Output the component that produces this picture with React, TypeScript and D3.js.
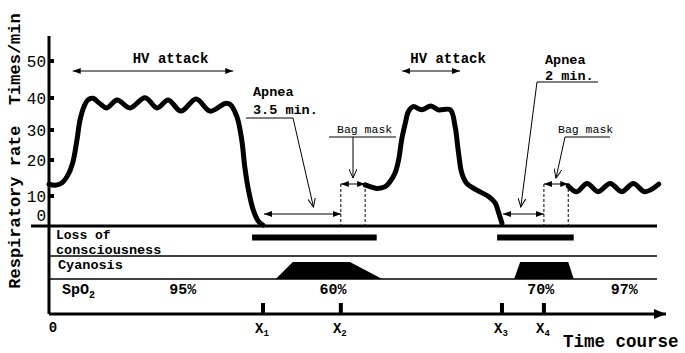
import React from 'react'
import * as d3 from 'd3'

// respiratory rate trace, [time, breaths/min]; time is 0-100 along the course
const hvAttack1: [number, number][] = [
  [0, 13.3], [1, 13.0], [2.1, 13.6], [3.1, 15.8], [3.9, 19.2], [4.6, 26.7],
  [5.1, 33.1], [5.8, 37.5], [6.4, 39.4], [7.2, 39.9], [8.4, 38.2], [9.5, 36.9],
  [11.2, 39.4], [13.3, 36.9], [15.8, 40.1], [17.8, 36.9], [19.6, 39.4],
  [21.7, 35.9], [24.2, 39.7], [26.5, 35.9], [29.0, 38.3], [29.8, 38.0],
  [30.9, 34.2], [31.7, 26.7], [32.2, 18.1], [32.8, 11.7], [33.6, 5.3],
  [34.5, 1.4], [35.2, 0.3],
]
const hvAttack2: [number, number][] = [
  [52.0, 13.1], [52.8, 12.6], [53.9, 12.1], [55.3, 12.6], [56.1, 14.0],
  [56.9, 16.3], [57.5, 20], [58.0, 26.7], [58.6, 32.1], [59.1, 35.7],
  [59.9, 37.3], [61.3, 36.3], [62.8, 37.5], [64.0, 36.3], [66.0, 36.3],
  [66.8, 31.0], [67.3, 23.3], [67.9, 16.3], [68.7, 13.5], [70.3, 11.7],
  [72.3, 9.8], [73.4, 7.6], [73.9, 4.8], [74.5, 0.9],
]
const recovery: [number, number][] = [
  [85.4, 12.8], [86.8, 11.2], [88.5, 13.5], [90.3, 11.2], [92.3, 13.5],
  [94.2, 11.2], [96.1, 13.5], [98.0, 11.2], [100.3, 13.3],
]

const yTicks = [10, 20, 30, 40, 50]
const markers = [
  { sub: '1', t: 35.2 },
  { sub: '2', t: 48.0 },
  { sub: '3', t: 74.5 },
  { sub: '4', t: 81.4 },
]
const hvSpans: [number, number][] = [[3.9, 30.3], [58.1, 67.6]]
const apneaSpans: [number, number][] = [[35.2, 48.0], [74.5, 81.4]]
const bagSpans: [number, number][] = [[48.0, 52.0], [81.4, 85.4]]
const consciousSpans: [number, number][] = [[33.4, 53.9], [73.7, 86.3]]
const cyanosis: [number, number, number, number][] = [
  [37.3, 40.1, 49.5, 54.8],
  [76.5, 77.5, 85.4, 86.3],
]
const spo2 = [
  { label: '95%', t: 22.0 },
  { label: '60%', t: 46.7 },
  { label: '70%', t: 80.9 },
  { label: '97%', t: 94.6 },
]

const font = "'Liberation Mono', 'Courier New', monospace"

const x = d3.scaleLinear().domain([0, 100]).range([49, 657])
const y = d3
  .scaleLinear()
  .domain([0, 10, 20, 30, 40, 50])
  .range([226, 196, 160, 130, 98, 61])

const line = d3
  .line<[number, number]>()
  .x((d) => x(d[0]))
  .y((d) => y(d[1]))
  .curve(d3.curveCatmullRom.alpha(0.5))

const ROW1 = 256
const ROW2 = 279
const AXIS = 314

const App = () => {
  const base = y(0)
  return (
    <svg
      width={685}
      height={353}
      style={{ position: 'absolute', left: 0, top: 0, background: '#fff' }}
      fontFamily={font}
    >
      <defs>
        <marker id="tri" viewBox="0 0 8 6" refX="8" refY="3" markerWidth="8" markerHeight="6" orient="auto-start-reverse" markerUnits="userSpaceOnUse">
          <path d="M0,0 L8,3 L0,6 Z" fill="#000" />
        </marker>
        <marker id="vee" viewBox="0 0 10 8" refX="9" refY="4" markerWidth="10" markerHeight="8" orient="auto" markerUnits="userSpaceOnUse">
          <path d="M0,0 L9,4 L0,8" fill="none" stroke="#000" strokeWidth={1} />
        </marker>
        <marker id="big" viewBox="0 0 12 10" refX="12" refY="5" markerWidth="12" markerHeight="10" orient="auto" markerUnits="userSpaceOnUse">
          <path d="M0,0 L12,5 L0,10 Z" fill="#000" />
        </marker>
      </defs>

      {/* y axis title */}
      <text
        transform={`translate(20, 151) rotate(-90)`}
        textAnchor="middle"
        fontSize={17}
        fontWeight="bold"
        xmlSpace="preserve"
      >
        {'Respiratory rate  Times/min'}
      </text>

      {/* axes */}
      <line x1={49} x2={49} y1={36} y2={AXIS} stroke="#000" strokeWidth={3} />
      <line x1={31} x2={x(100)} y1={base} y2={base} stroke="#000" strokeWidth={3} />
      <line x1={49} x2={x(100)} y1={ROW1} y2={ROW1} stroke="#000" strokeWidth={1.3} />
      <line x1={49} x2={x(100)} y1={ROW2} y2={ROW2} stroke="#000" strokeWidth={1.3} />
      <line x1={49} x2={666} y1={AXIS} y2={AXIS} stroke="#000" strokeWidth={3} markerEnd="url(#big)" />

      {yTicks.map((v) => (
        <g key={v}>
          <rect x={49} y={y(v) - 2} width={5} height={4} fill="#000" />
          <text x={46} y={y(v)} dy="0.35em" textAnchor="end" fontSize={16}>
            {v}
          </text>
        </g>
      ))}
      <text x={46} y={y(0) - 11} dy="0.35em" textAnchor="end" fontSize={16}>
        0
      </text>

      {/* trace */}
      {[hvAttack1, hvAttack2, recovery].map((seg, i) => (
        <path key={i} d={line(seg) ?? ''} fill="none" stroke="#000" strokeWidth={5} strokeLinejoin="round" strokeLinecap="round" />
      ))}

      {/* HV attack */}
      {hvSpans.map(([a, b], i) => (
        <g key={i}>
          <line x1={x(a)} x2={x(b)} y1={71} y2={71} stroke="#000" strokeWidth={1} markerStart="url(#tri)" markerEnd="url(#tri)" />
          <text x={i === 0 ? x(a) + 60 : x(a) + 8} y={63} fontSize={14} fontWeight="bold">
            HV attack
          </text>
        </g>
      ))}

      {/* apnea and bag mask spans */}
      {apneaSpans.map(([a, b], i) => (
        <line key={'a' + i} x1={x(a) + 1} x2={x(b)} y1={214} y2={214} stroke="#000" strokeWidth={1} markerStart="url(#tri)" markerEnd="url(#tri)" />
      ))}
      {bagSpans.map(([a, b], i) => (
        <g key={'b' + i}>
          <line x1={x(a)} x2={x(a)} y1={184} y2={base} stroke="#000" strokeWidth={1} strokeDasharray="3,2" />
          <line x1={x(b)} x2={x(b)} y1={184} y2={base} stroke="#000" strokeWidth={1} strokeDasharray="3,2" />
          <line x1={x(a)} x2={x(b)} y1={184} y2={184} stroke="#000" strokeWidth={1} markerStart="url(#tri)" markerEnd="url(#tri)" />
        </g>
      ))}

      {/* callouts */}
      <text x={253} y={96} fontSize={13.5} fontWeight="bold">Apnea</text>
      <text x={253} y={113.5} fontSize={13.5} fontWeight="bold">3.5 min.</text>
      <polyline points={`246,118 293,118 ${x(43.5)},207`} fill="none" stroke="#000" strokeWidth={1} markerEnd="url(#vee)" />

      <text x={337} y={133} fontSize={11.5}>Bag mask</text>
      <polyline points={`329,137 396,137`} fill="none" stroke="#000" strokeWidth={1} />
      <line x1={353} x2={353} y1={137} y2={178} stroke="#000" strokeWidth={1} markerEnd="url(#vee)" />

      <text x={545} y={63.5} fontSize={13.5} fontWeight="bold">Apnea</text>
      <text x={545} y={80} fontSize={13.5} fontWeight="bold">2 min.</text>
      <polyline points={`598,82 537,82 ${x(77.6)},207`} fill="none" stroke="#000" strokeWidth={1} markerEnd="url(#vee)" />

      <text x={558} y={133} fontSize={11.5}>Bag mask</text>
      <polyline points={`610,137 565,137 556,178`} fill="none" stroke="#000" strokeWidth={1} markerEnd="url(#vee)" />

      {/* loss of consciousness */}
      <text x={56} y={239} fontSize={13} fontWeight="bold">Loss of</text>
      <text x={56} y={253.5} fontSize={13.5} fontWeight="bold">consciousness</text>
      {consciousSpans.map(([a, b], i) => (
        <rect key={i} x={x(a)} y={234.5} width={x(b) - x(a)} height={6} fill="#000" />
      ))}

      {/* cyanosis */}
      <text x={58} y={269} fontSize={13.5} fontWeight="bold">Cyanosis</text>
      {cyanosis.map((c, i) => (
        <path key={i} d={`M${x(c[0])},${ROW2} L${x(c[1])},262 L${x(c[2])},262 L${x(c[3])},${ROW2} Z`} fill="#000" />
      ))}

      {/* SpO2 */}
      <text x={62} y={294} fontSize={15} fontWeight="bold">
        SpO<tspan fontSize={10} dy={4}>2</tspan>
      </text>
      {spo2.map((s) => (
        <text key={s.label} x={x(s.t)} y={294} textAnchor="middle" fontSize={15} fontWeight="bold">
          {s.label}
        </text>
      ))}

      {/* time course markers */}
      {markers.map((m) => (
        <g key={m.sub}>
          <rect x={x(m.t) - 2} y={303} width={4} height={AXIS - 303} fill="#000" />
          <text x={x(m.t) - 1} y={333} textAnchor="middle" fontSize={14} fontWeight="bold">
            X<tspan fontSize={9} dy={3}>{m.sub}</tspan>
          </text>
        </g>
      ))}
      <text x={x(0) + 4} y={332} textAnchor="middle" fontSize={14} fontWeight="bold">0</text>
      <text x={563} y={347} fontSize={17.5} fontWeight="bold">Time course</text>
    </svg>
  )
}

export default App
